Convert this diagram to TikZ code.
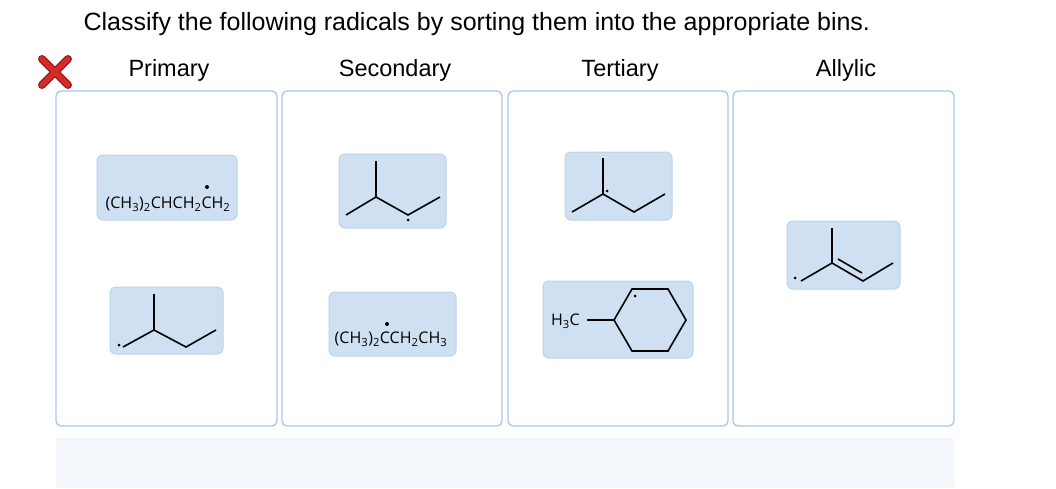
\documentclass[tikz,border=0pt]{standalone}
\usepackage{fontspec}
\setmainfont{Liberation Sans}
\newfontfamily\molfont{Open Sans}
\definecolor{binline}{HTML}{A8C6EA}
\definecolor{molfill}{HTML}{CFE0F2}
\definecolor{molline}{HTML}{BCD3EE}
\definecolor{strip}{HTML}{F3F6FB}
\definecolor{xred}{HTML}{D42A2A}
\begin{document}
\begin{tikzpicture}[x=1pt,y=-1pt,
  bin/.style={draw=binline,line width=1.3pt,rounded corners=5pt},
  mol/.style={fill=molfill,draw=molline,line width=1pt,rounded corners=6pt},
  bond/.style={line width=1.6pt,line join=miter},
  rad/.style={fill=black,circle,inner sep=0pt,minimum size=4pt},
  head/.style={font=\fontsize{23.5}{26}\selectfont},
  mtext/.style={font=\molfont\fontsize{16}{18}\selectfont,inner sep=0pt}]
\useasboundingbox (0,0) rectangle (1056,488);
\node[anchor=west,font=\fontsize{25}{28}\selectfont] (title) at (80,24) {Classify the following radicals by sorting them into the appropriate bins.};
% X icon
\draw[xred!70!black,line width=8pt,line cap=round] (42,59)--(68,85) (68,59)--(42,85);
\draw[xred,line width=5.5pt,line cap=round] (42,59)--(68,85) (68,59)--(42,85);
\node[head] (h1) at (169,70) {Primary};
\node[head] (h2) at (395,70) {Secondary};
\node[head] (h3) at (620,70) {Tertiary};
\node[head] (h4) at (846,70) {Allylic};
\draw[bin] (56,91) rectangle (277,426);
\draw[bin] (282,91) rectangle (502,426);
\draw[bin] (508,91) rectangle (728,426);
\draw[bin] (733,91) rectangle (954,426);
\fill[strip] (56,438) rectangle (954,488);
% Primary 1
\draw[mol] (97,155) rectangle (237,220);
\node[mtext] (m1) at (168,204) {(CH\textsubscript{3})\textsubscript{2}CHCH\textsubscript{2}CH\textsubscript{2}};
\node[rad] (d1) at (207,187) {};
% Primary 2
\draw[mol] (110,287) rectangle (223,354);
\draw[bond] (123,347)--(154,330)--(186,347)--(216,330) (154,330)--(154,294);
\node[rad,minimum size=3pt] (d2) at (119,345) {};
% Secondary 1
\draw[mol] (339,154) rectangle (446,228);
\draw[bond] (346,215)--(376,197)--(408,215)--(440,197) (376,197)--(376,161);
\node[rad,minimum size=3pt] (d3) at (408,220) {};
% Secondary 2
\draw[mol] (329,292) rectangle (456,356);
\node[mtext] (m2) at (391,339) {(CH\textsubscript{3})\textsubscript{2}CCH\textsubscript{2}CH\textsubscript{3}};
\node[rad] (d4) at (387,324) {};
% Tertiary 1
\draw[mol] (565,152) rectangle (672,220);
\draw[bond] (572,212)--(603,194)--(634,212)--(665,194) (603,194)--(603,158);
\node[rad,minimum size=3pt] (d5) at (607,191) {};
% Tertiary 2
\draw[mol] (543,281) rectangle (693,358);
\node[mtext,anchor=east] (m3) at (580,321) {H\textsubscript{3}C};
\draw[bond] (587,320)--(614,320);
\draw[bond] (614,320)--(632,289)--(668,289)--(686,320)--(668,351)--(632,351)--cycle;
\node[rad,minimum size=3pt] (d6) at (635,296) {};
% Allylic
\draw[mol] (787,221) rectangle (900,289);
\draw[bond] (801,281)--(832,263)--(863,281)--(893,263) (832,263)--(832,228);
\draw[bond] (838,259)--(862,273);
\node[rad,minimum size=3pt] (d7) at (795,278) {};
\end{tikzpicture}
\end{document}
